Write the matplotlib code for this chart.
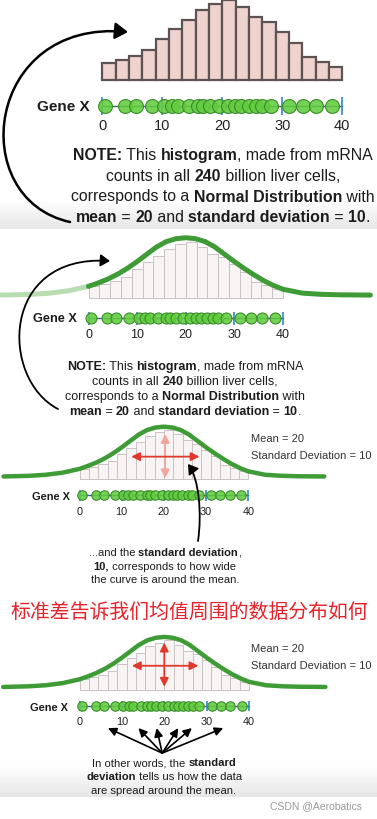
import numpy as np
import matplotlib
matplotlib.use('Agg')
import matplotlib.pyplot as plt
from matplotlib.patches import FancyArrowPatch
from matplotlib.path import Path
from matplotlib.transforms import Affine2D

plt.rcParams['font.family'] = ['Liberation Sans', 'DejaVu Sans']

W, H = 377, 820

# values
hist_counts = [17, 20, 24, 30, 41, 51, 60, 70, 76, 80, 73, 63, 58, 48, 37, 23, 18, 13]
gene_x = [0.5, 3.8, 5.7, 8.3, 10.3, 11.6, 12.7, 14.4, 15.9, 16.8, 18.0, 19.5, 20.9,
          22.2, 23.2, 24.4, 25.6, 26.7, 28.2, 31.2, 33.4, 35.6, 38.3]
ticks = [0, 10, 20, 30, 40]
curve_x = [-18, -12, -8, -4, 0, 2, 4, 6, 8, 10, 12, 14, 16, 18, 20, 22, 24, 26, 28,
           30, 32, 34, 36, 38, 40, 44, 48, 52, 58]
curve_y = [0.6, 0.75, 1.0, 1.5, 2.4, 3.1, 3.9, 4.9, 6.1, 7.5, 9.0, 10.5, 11.6, 12.2,
           12.4, 12.2, 11.6, 10.5, 9.0, 7.5, 6.1, 4.8, 3.6, 2.6, 1.8, 1.0, 0.75, 0.65, 0.6]
mean_sd_lines = ['Mean = 20', 'Standard Deviation = 10']
title_cn = '标准差告诉我们均值周围的数据分布如何'

note_lines = [
    [('NOTE:', True), (' This ', False), ('histogram', True), (', made from mRNA', False)],
    [('counts in all ', False), ('240', True), (' billion liver cells,', False)],
    [('corresponds to a ', False), ('Normal Distribution', True), (' with', False)],
    [('mean', True), (' = ', False), ('20', True), (' and ', False),
     ('standard deviation', True), (' = ', False), ('10', True), ('.', False)],
]
sd_lines = [
    [('...and the ', False), ('standard deviation', True), (',', False)],
    [('10,', True), (' corresponds to how wide', False)],
    [('the curve is around the mean.', False)],
]
words_lines = [
    [('In other words, the ', False), ('standard', True)],
    [('deviation', True), (' tells us how the data', False)],
    [('are spread around the mean.', False)],
]

green = '#3f9b36'
green_faded = '#b8ddb0'
dot_face = (0.38, 0.80, 0.24, 0.88)
dot_edge = '#3a8c2a'
tick_col = '#2f86c9'
txt_col = '#1c1c1c'

fig = plt.figure(figsize=(W / 100, H / 100), dpi=100)
renderer = fig.canvas.get_renderer()
pix = Affine2D().scale(1 / W, -1 / H).translate(0, 1) + fig.transFigure

# screenshot background with grey fades
grad = np.ones((H, 1))
grad[200:230, 0] = np.linspace(1.0, 0.90, 30)
grad[765:798, 0] = np.linspace(1.0, 0.90, 33)
bg = fig.add_axes([0, 0, 1, 1], zorder=-10)
bg.imshow(grad, extent=(0, W, H, 0), aspect='auto', cmap='gray', vmin=0, vmax=1)
bg.axis('off')


def panel(y_top, y_bot, zero_px, ppu_x, base_px, ppu_y):
    ax = fig.add_axes([0, 1 - y_bot / H, 1, (y_bot - y_top) / H])
    ax.set_xlim(-zero_px / ppu_x, (W - zero_px) / ppu_x)
    ax.set_ylim((base_px - y_bot) / ppu_y, (base_px - y_top) / ppu_y)
    ax.axis('off')
    return ax


def number_line(ax, y_line, y_lab, tick_h, ms, fs):
    ax.plot([0, 40], [y_line, y_line], color='#3a5f86', lw=1, zorder=3)
    ax.vlines(ticks, y_line - tick_h, y_line + tick_h, color=tick_col, lw=1.2, zorder=3)
    ax.plot(gene_x, [y_line] * len(gene_x), 'o', ms=ms, mfc=dot_face, mec=dot_edge,
            mew=0.8, zorder=4)
    for t in ticks:
        ax.text(t, y_lab, str(t), ha='center', va='center', fontsize=fs, color='#222222')


def width_of(s, size, bold):
    t = fig.text(0, 0, '|' + s + '|', fontsize=size, fontweight='bold' if bold else 'normal')
    w = t.get_window_extent(renderer=renderer).width
    t.remove()
    t = fig.text(0, 0, '||', fontsize=size, fontweight='bold' if bold else 'normal')
    w2 = t.get_window_extent(renderer=renderer).width
    t.remove()
    return w - w2


def rich(xc, y, parts, size, color=txt_col):
    ws = [width_of(s, size, b) for s, b in parts]
    x = xc - sum(ws) / 2
    for (s, b), w in zip(parts, ws):
        fig.text(x / W, 1 - y / H, s, fontsize=size, color=color,
                 fontweight='bold' if b else 'normal', ha='left', va='center')
        x += w


def ftext(x, y, s, **kw):
    fig.text(x / W, 1 - y / H, s, **kw)


def curved_arrow(p0, p1, p2, p3, lw=1.5, ms=9):
    path = Path([p0, p1, p2, p3], [Path.MOVETO, Path.CURVE4, Path.CURVE4, Path.CURVE4])
    a = FancyArrowPatch(path=path, arrowstyle='-|>,head_length=0.7,head_width=0.45',
                        mutation_scale=ms, lw=lw, color='black', transform=pix)
    fig.add_artist(a)


edges = np.linspace(0, 40, len(hist_counts) + 1)
bw = 40 / len(hist_counts)
cx = np.array(curve_x, dtype=float)
cy = np.array(curve_y)
light_bars = np.array(hist_counts) * 0.145

# ---------- panel 1 ----------
ax1 = panel(0, 230, 102.2, 6.0, 81, 1.0)
ax1.bar(edges[:-1], hist_counts, width=bw, align='edge', color='#efd3cf',
        edgecolor='#5d5353', lw=1.6)
number_line(ax1, -26, -45, 9, 10, 10.5)
ftext(90, 107, 'Gene X', fontsize=11, fontweight='bold', ha='right', va='center', color=txt_col)
for line, y in zip(note_lines, [156, 176.5, 197, 218]):
    rich(223, y, line, 11.4)
curved_arrow((70, 223), (-35, 200), (-15, 20), (128, 33), lw=1.8, ms=11)

# ---------- panel 2 ----------
ax2 = panel(230, 425, 88.5, 4.86, 299, 4.86)
ax2.bar(edges[:-1], light_bars, width=bw, align='edge', color='#f8f4f4',
        edgecolor='#cbc3c3', lw=0.7)
ax2.plot(cx[cx <= 0], cy[cx <= 0], color=green_faded, lw=3.6, solid_capstyle='round')
ax2.plot(cx[cx >= 0], cy[cx >= 0], color=green, lw=3.6, solid_capstyle='round',
         solid_joinstyle='round')
number_line(ax2, -4.18, -7.5, 1.3, 7.9, 9)
ftext(77, 319, 'Gene X', fontsize=9.2, fontweight='bold', ha='right', va='center', color=txt_col)
for line, y in zip(note_lines, [366.7, 381.7, 396.7, 411.7]):
    rich(185, y, line, 9.0)
curved_arrow((58, 410), (0, 380), (0, 255), (110, 262), lw=1.3, ms=8)

# ---------- panel 3 ----------
ax3 = panel(420, 600, 79.5, 4.22, 480, 4.22)
ax3.bar(edges[:-1], light_bars, width=bw, align='edge', color='#f8f4f4',
        edgecolor='#cbc3c3', lw=0.7)
ax3.annotate('', xy=(20.3, 11.3), xytext=(20.3, -0.5),
             arrowprops=dict(arrowstyle='<|-|>,head_length=0.5,head_width=0.25',
                             color='#f2a49d', lw=1.3))
ax3.plot(cx, cy, color=green, lw=3.2, solid_capstyle='round', solid_joinstyle='round')
ax3.annotate('', xy=(29.1, 5.3), xytext=(11.6, 5.3),
             arrowprops=dict(arrowstyle='<|-|>,head_length=0.5,head_width=0.25',
                             color='#e0392b', lw=1.3))
number_line(ax3, -3.9, -7.5, 1.2, 6.8, 7.8)
ftext(70, 497.5, 'Gene X', fontsize=7.9, fontweight='bold', ha='right', va='center', color=txt_col)
for s, y in zip(mean_sd_lines, [439.3, 456]):
    ftext(251, y, s, fontsize=8.0, color='#333333', ha='left', va='center')
for line, y in zip(sd_lines, [553.3, 566.7, 580]):
    rich(165, y, line, 8.0)
curved_arrow((198, 542), (202, 515), (199, 480), (188, 465), lw=1.3, ms=8)

# ---------- panel 4 ----------
ftext(189, 613, title_cn, fontsize=14.3, color='#e8222a', ha='center', va='center',
      family=['Noto Sans CJK SC', 'DejaVu Sans'])
ax4 = panel(600, 820, 79.5, 4.24, 690.5, 4.24)
ax4.bar(edges[:-1], light_bars, width=bw, align='edge', color='#f8f4f4',
        edgecolor='#cbc3c3', lw=0.7)
ax4.plot(cx, cy, color=green, lw=3.2, solid_capstyle='round', solid_joinstyle='round')
ax4.annotate('', xy=(20, 11.7), xytext=(20, 0),
             arrowprops=dict(arrowstyle='<|-|>,head_length=0.5,head_width=0.25',
                             color='#e0392b', lw=1.3))
ax4.annotate('', xy=(28.7, 5.6), xytext=(11.7, 5.6),
             arrowprops=dict(arrowstyle='<|-|>,head_length=0.5,head_width=0.25',
                             color='#e0392b', lw=1.3))
number_line(ax4, -3.8, -7.36, 1.2, 6.8, 7.8)
ftext(68, 708, 'Gene X', fontsize=7.9, fontweight='bold', ha='right', va='center', color=txt_col)
for s, y in zip(mean_sd_lines, [649, 665.7]):
    ftext(251, y, s, fontsize=8.0, color='#333333', ha='left', va='center')
for tx in [6.7, 13.9, 18.2, 23.3, 26.5, 33.9]:
    ax4.annotate('', xy=(tx, -9.1), xytext=(19.5, -15),
                 arrowprops=dict(arrowstyle='-|>,head_length=0.5,head_width=0.25',
                                 color='black', lw=1.2, shrinkA=0, shrinkB=0))
for line, y in zip(words_lines, [763.3, 776.7, 790.7]):
    rich(164, y, line, 8.1)
ftext(362, 806, 'CSDN @Aerobatics', fontsize=7.5, color='#9a9a9a', ha='right', va='center')

fig.savefig('out.png', dpi=100)
